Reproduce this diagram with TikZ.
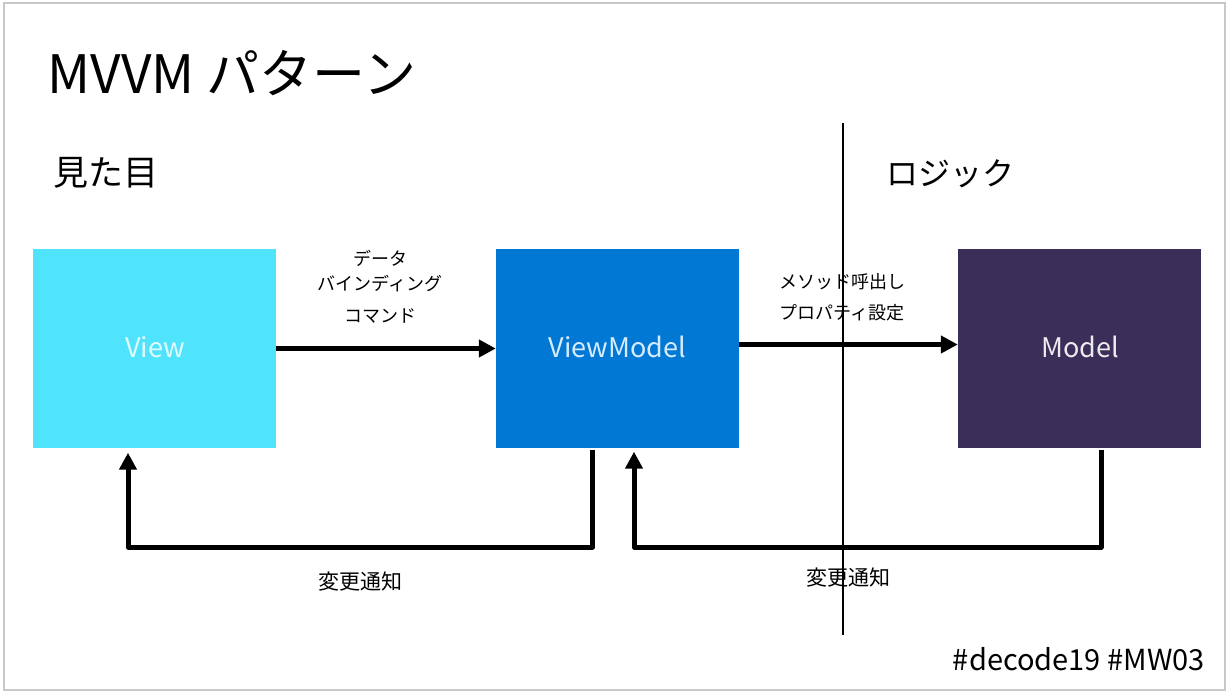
\documentclass[tikz,border=0pt]{standalone}
\usepackage{fontspec}
\setmainfont{Noto Sans CJK JP}
\usetikzlibrary{arrows.meta}
\definecolor{viewc}{RGB}{80,227,252}
\definecolor{vmc}{RGB}{0,120,212}
\definecolor{modelc}{RGB}{59,46,88}
\definecolor{framec}{RGB}{200,200,200}
\definecolor{viewtxt}{RGB}{225,250,255}
\definecolor{vmtxt}{RGB}{215,235,255}
\definecolor{modeltxt}{RGB}{235,235,240}
\tikzset{
  box/.style={minimum width=243pt, minimum height=199pt, inner sep=0pt, draw=none},
  boxtext/.style={font=\fontsize{27}{30}\selectfont},
  arr/.style={line width=5pt, line join=round, -{Triangle[length=17pt,width=17pt]}},
  lbl/.style={font=\fontsize{18}{25}\selectfont, inner sep=0pt},
}
\begin{document}
\begin{tikzpicture}[x=1pt,y=-1pt]
\useasboundingbox (0,0) rectangle (1228,696);
\fill[white] (0,0) rectangle (1228,696);
\draw[framec, line width=1.2pt] (4,3) rectangle (1225,690);

% headings
\node[anchor=base west, inner sep=0pt, font=\fontsize{53}{60}\selectfont] (title) at (47,93) {MVVM パターン};
\node[anchor=base west, inner sep=0pt, font=\fontsize{35}{40}\selectfont] (look) at (53,185) {見た目};
\node[anchor=base west, inner sep=0pt, font=\fontsize{32}{40}\selectfont] (logic) at (886,185) {ロジック};

% divider
\coordinate (divtop) at (843,123);
\coordinate (divbot) at (843,635);
\draw[black, line width=1.2pt] (divtop) -- (divbot);

% boxes
\node[box, fill=viewc] (view) at (154.5,348.5) {};
\node[box, fill=vmc] (vm) at (617.5,348.5) {};
\node[box, fill=modelc] (model) at (1079.5,348.5) {};
\node[boxtext, text=viewtxt, anchor=base, inner sep=0pt] (viewt) at (155,357) {View};
\node[boxtext, text=vmtxt, anchor=base, inner sep=0pt] (vmt) at (617.5,357) {ViewModel};
\node[boxtext, text=modeltxt, anchor=base, inner sep=0pt] (modelt) at (1080,357) {Model};

% forward arrows
\draw[arr] (view.east) -- (vm.west);
\draw[arr] ([yshift=4pt]vm.east) -- ([yshift=4pt]model.west);

% labels on forward arrows
\node[lbl, align=center] (bind) at (380,287) {データ\\バインディング\\[7pt]コマンド};
\node[lbl, align=left, anchor=west, font=\fontsize{18}{31}\selectfont] (call) at (779,297.5) {メソッド呼出し\\プロパティ設定};

% feedback arrows
\coordinate (fb1) at (360,547);
\coordinate (fb2) at (860,547);
\draw[arr] ([xshift=-25pt,yshift=-2pt]vm.south) |- (fb1) -| ([xshift=-26.5pt,yshift=-4.5pt]view.south);
\draw[arr] ([xshift=21.5pt,yshift=-2pt]model.south) |- (fb2) -| ([xshift=16.5pt,yshift=-3.5pt]vm.south);

\node[lbl, font=\fontsize{21}{25}\selectfont] (chg1) at (360,582) {変更通知};
\node[lbl, font=\fontsize{21}{25}\selectfont] (chg2) at (848,578) {変更通知};

% hashtag
\node[anchor=base east, inner sep=0pt, font=\fontsize{29}{32}\selectfont] (tag) at (1205,670) {\#decode19 \#MW03};
\end{tikzpicture}
\end{document}
